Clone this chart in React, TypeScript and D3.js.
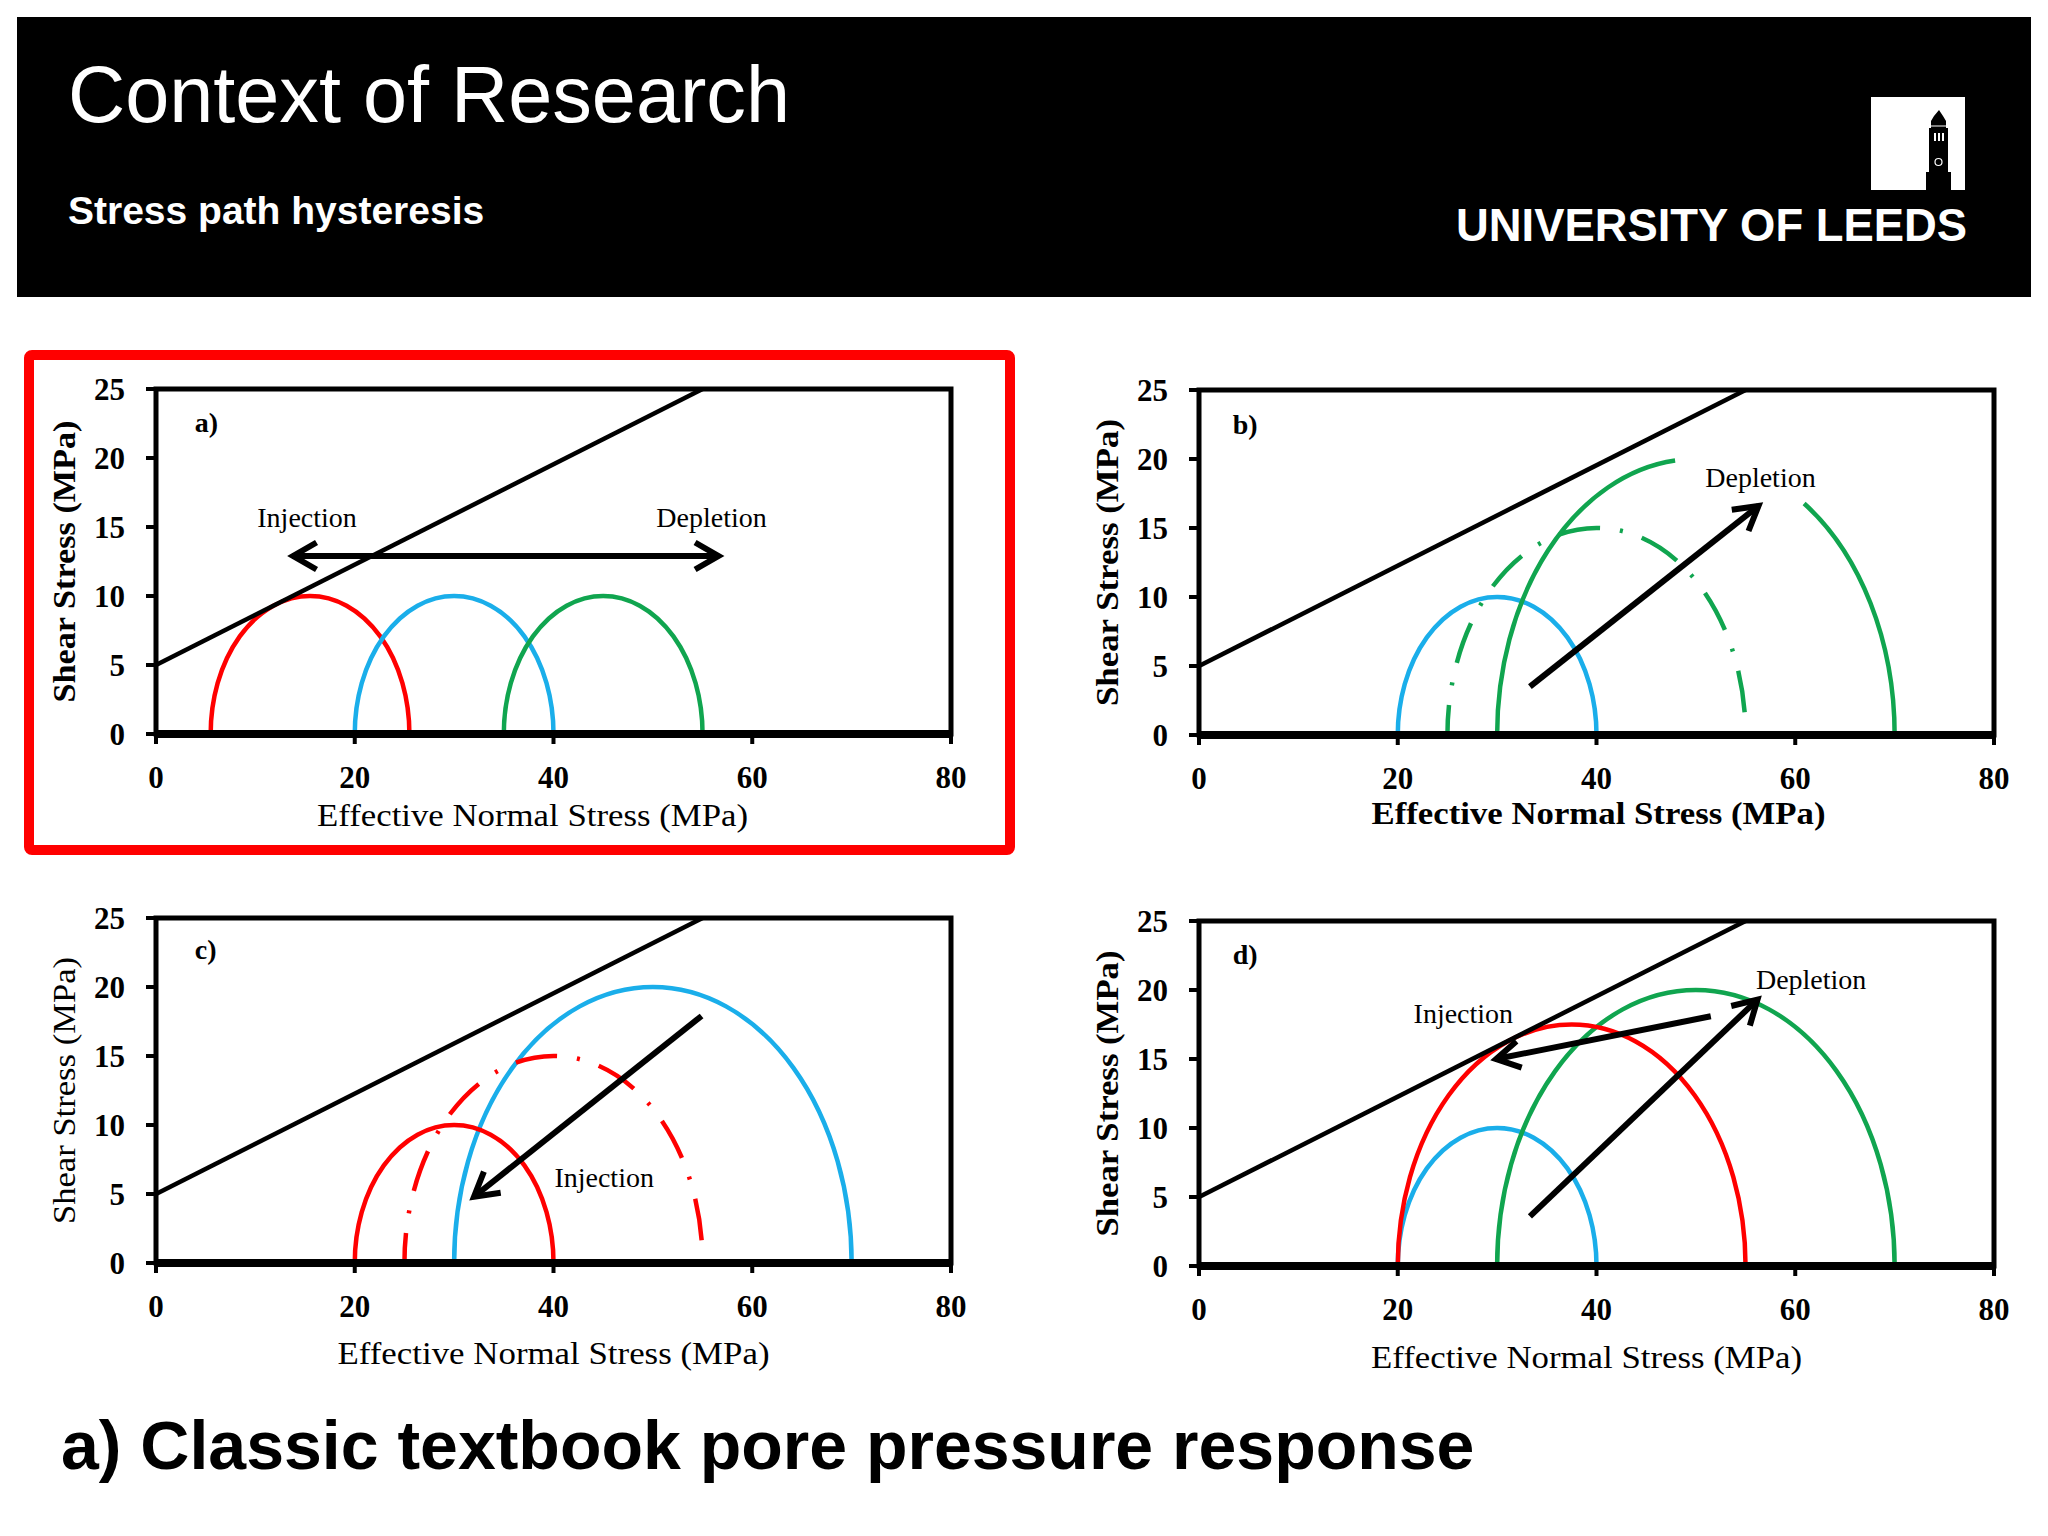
import * as d3 from "d3";

const W = 2048;
const H = 1536;

const xTicks = [0, 20, 40, 60, 80];
const yTicks = [0, 5, 10, 15, 20, 25];

// failure envelope (cohesion 5 MPa, ~20 deg friction), as end points
const envelope: [number, number][] = [
  [0, 5],
  [55, 25],
];

type Circle = { stage: string; centre: number; radius: number; arcs?: [number, number][] };
type Arrow = { from: [number, number]; to: [number, number]; both?: boolean };
type Note = { text: string; at: [number, number] };

const circlesA: Circle[] = [
  { stage: "injected", centre: 15.5, radius: 10 },
  { stage: "initial", centre: 30, radius: 10 },
  { stage: "depleted", centre: 45, radius: 10 },
];
const circlesB: Circle[] = [
  { stage: "initial", centre: 30, radius: 10 },
  { stage: "depletedMid", centre: 40, radius: 15 },
  { stage: "depleted", centre: 50, radius: 20, arcs: [[96, 180], [0, 57]] },
];
const circlesC: Circle[] = [
  { stage: "initial", centre: 50, radius: 20 },
  { stage: "injectedMid", centre: 40, radius: 15 },
  { stage: "injected", centre: 30, radius: 10 },
];
const circlesD: Circle[] = [
  { stage: "initial", centre: 30, radius: 10 },
  { stage: "depleted", centre: 50, radius: 20 },
  { stage: "injected", centre: 37.5, radius: 17.5 },
];

const arrowsA: Arrow[] = [{ from: [13.8, 12.9], to: [56.6, 12.9], both: true }];
const arrowsB: Arrow[] = [{ from: [33.3, 3.5], to: [56.3, 16.6] }];
const arrowsC: Arrow[] = [{ from: [54.9, 17.9], to: [32.0, 4.8] }];
const arrowsD: Arrow[] = [
  { from: [33.3, 3.6], to: [56.2, 19.3] },
  { from: [51.5, 18.1], to: [29.9, 15.0] },
];

const notesA: Note[] = [
  { text: "Injection", at: [15.2, 15] },
  { text: "Depletion", at: [55.9, 15] },
];
const notesB: Note[] = [{ text: "Depletion", at: [56.5, 18] }];
const notesC: Note[] = [{ text: "Injection", at: [45.1, 5.5] }];
const notesD: Note[] = [
  { text: "Injection", at: [26.6, 17.6] },
  { text: "Depletion", at: [61.6, 20.1] },
];

const letters = ["a)", "b)", "c)", "d)"];
const letterAt: [number, number][] = [
  [3.9, 21.9],
  [3.4, 21.8],
  [3.9, 22.0],
  [3.4, 21.9],
];

const xTitle = "Effective Normal Stress (MPa)";
const yTitle = "Shear Stress (MPa)";

const RED = "#ff0000";
const BLUE = "#1aaeea";
const GREEN = "#10a54f";

const stageStyle: Record<string, { color: string; dash?: string }> = {
  initial: { color: BLUE },
  injected: { color: RED },
  depleted: { color: GREEN },
  injectedMid: { color: RED, dash: "42 20 3 20" },
  depletedMid: { color: GREEN, dash: "42 20 3 20" },
};

const SERIF = "'Liberation Serif', 'Times New Roman', serif";
const SANS = "'Liberation Sans', Arial, sans-serif";

type PanelProps = {
  left: number;
  top: number;
  circles: Circle[];
  arrows: Arrow[];
  notes: Note[];
  letter: string;
  letterPos: [number, number];
  yBold: boolean;
  xBold: boolean;
  xTitleShift: number;
  xTitleGap: number;
  xTitleLen: number;
  yTitleLen: number;
};

const PW = 795;
const PH = 345;

function Panel(p: PanelProps) {
  const x = d3.scaleLinear().domain([0, 80]).range([0, PW]);
  const y = d3.scaleLinear().domain([0, 25]).range([PH, 0]);

  const arcPath = (c: Circle, a0: number, a1: number) => {
    const rx = x(c.radius) - x(0);
    const ry = y(0) - y(c.radius);
    const t0 = (a1 * Math.PI) / 180;
    const t1 = (a0 * Math.PI) / 180;
    const sx = x(c.centre + c.radius * Math.cos(t0));
    const sy = y(c.radius * Math.sin(t0));
    const ex = x(c.centre + c.radius * Math.cos(t1));
    const ey = y(c.radius * Math.sin(t1));
    return `M${sx},${sy} A${rx},${ry} 0 0 1 ${ex},${ey}`;
  };

  const head = (tx: number, ty: number, fx: number, fy: number) => {
    const len = Math.hypot(tx - fx, ty - fy);
    const ux = (tx - fx) / len;
    const uy = (ty - fy) / len;
    const L = 27;
    const th = (30 * Math.PI) / 180;
    const arm = (s: number) => {
      const c = Math.cos(s * th);
      const sn = Math.sin(s * th);
      const rx = ux * c - uy * sn;
      const ry = ux * sn + uy * c;
      return [tx - L * rx, ty - L * ry];
    };
    const a = arm(1);
    const b = arm(-1);
    return `M${a[0]},${a[1]} L${tx},${ty} L${b[0]},${b[1]}`;
  };

  const line = d3
    .line<[number, number]>()
    .x((d) => x(d[0]))
    .y((d) => y(d[1]));

  return (
    <g transform={`translate(${p.left},${p.top})`}>
      {/* circles */}
      {p.circles.map((c, i) => {
        const st = stageStyle[c.stage];
        const arcs = c.arcs ?? [[0, 180] as [number, number]];
        return arcs.map((a, j) => (
          <path
            key={`${i}-${j}`}
            d={arcPath(c, a[0], a[1])}
            fill="none"
            stroke={st.color}
            strokeWidth={4.5}
            strokeDasharray={st.dash}
            strokeDashoffset={st.dash ? 12 : undefined}
          />
        ));
      })}
      {/* envelope */}
      <path d={line(envelope) ?? ""} fill="none" stroke="#000" strokeWidth={4.5} />
      {/* arrows */}
      {p.arrows.map((a, i) => {
        const fx = x(a.from[0]);
        const fy = y(a.from[1]);
        const tx = x(a.to[0]);
        const ty = y(a.to[1]);
        return (
          <g key={i} fill="none" stroke="#000" strokeWidth={6} strokeLinejoin="miter">
            <line x1={fx} y1={fy} x2={tx} y2={ty} />
            <path d={head(tx, ty, fx, fy)} />
            {a.both && <path d={head(fx, fy, tx, ty)} />}
          </g>
        );
      })}
      {p.notes.map((n, i) => (
        <text key={i} x={x(n.at[0])} y={y(n.at[1])} textAnchor="middle" fontFamily={SERIF} fontSize={28} fill="#000">
          {n.text}
        </text>
      ))}
      <text x={x(p.letterPos[0])} y={y(p.letterPos[1])} fontFamily={SERIF} fontWeight="bold" fontSize={28} fill="#000">
        {p.letter}
      </text>
      {/* frame */}
      <rect x={0} y={0} width={PW} height={PH} fill="none" stroke="#000" strokeWidth={5} />
      <line x1={-2} x2={PW + 2} y1={PH} y2={PH} stroke="#000" strokeWidth={8} />
      {yTicks.map((t) => (
        <g key={`y${t}`}>
          <line x1={-10} x2={0} y1={y(t)} y2={y(t)} stroke="#000" strokeWidth={4} />
          <text
            x={-31}
            y={y(t)}
            dy="0.34em"
            textAnchor="end"
            fontFamily={SERIF}
            fontWeight="bold"
            fontSize={31}
            fill="#000"
          >
            {t}
          </text>
        </g>
      ))}
      {xTicks.map((t) => (
        <g key={`x${t}`}>
          <line x1={x(t)} x2={x(t)} y1={PH} y2={PH + 10} stroke="#000" strokeWidth={4} />
          <text x={x(t)} y={PH + 54} textAnchor="middle" fontFamily={SERIF} fontWeight="bold" fontSize={31} fill="#000">
            {t}
          </text>
        </g>
      ))}
      <text
        x={PW / 2 + p.xTitleShift}
        y={PH + p.xTitleGap}
        textAnchor="middle"
        fontFamily={SERIF}
        fontWeight={p.xBold ? "bold" : "normal"}
        fontSize={31}
        textLength={p.xTitleLen}
        lengthAdjust="spacingAndGlyphs"
        fill="#000"
      >
        {xTitle}
      </text>
      <text
        transform={`translate(-81,${PH / 2}) rotate(-90)`}
        textAnchor="middle"
        fontFamily={SERIF}
        fontWeight={p.yBold ? "bold" : "normal"}
        fontSize={31}
        textLength={p.yTitleLen}
        lengthAdjust="spacingAndGlyphs"
        fill="#000"
      >
        {yTitle}
      </text>
    </g>
  );
}

function LeedsLogo() {
  return (
    <g>
      <rect x={1871} y={97} width={94} height={93} fill="#fff" />
      <path
        d="M1939 110 L1943 116 L1946 121 L1946 128 L1948 128 L1948 172 L1951 172 L1951 190 L1926 190 L1926 172 L1929 172 L1929 128 L1931 128 L1931 121 L1934 116 Z"
        fill="#000"
      />
      <rect x={1934} y={133} width={2} height={8} fill="#fff" />
      <rect x={1938} y={133} width={2} height={8} fill="#fff" />
      <rect x={1942} y={133} width={2} height={8} fill="#fff" />
      <circle cx={1938.5} cy={162} r={3.5} fill="none" stroke="#fff" strokeWidth={1.2} />
      <line x1={1929} x2={1948} y1={126} y2={126} stroke="#fff" strokeWidth={1} />
    </g>
  );
}

export default function App() {
  return (
    <svg
      width={W}
      height={H}
      viewBox={`0 0 ${W} ${H}`}
      style={{ position: "absolute", left: 0, top: 0, background: "#fff" }}
    >
      <rect x={0} y={0} width={W} height={H} fill="#fff" />
      {/* header */}
      <rect x={17} y={17} width={2014} height={280} fill="#000" />
      <text x={68} y={122} fontFamily={SANS} fontSize={80} fill="#fff" textLength={722} lengthAdjust="spacingAndGlyphs">
        Context of Research
      </text>
      <text x={68} y={224} fontFamily={SANS} fontWeight="bold" fontSize={39} fill="#fff">
        Stress path hysteresis
      </text>
      <LeedsLogo />
      <text
        x={1456}
        y={241}
        fontFamily={SANS}
        fontWeight="bold"
        fontSize={46}
        fill="#fff"
        textLength={511}
        lengthAdjust="spacingAndGlyphs"
      >
        UNIVERSITY OF LEEDS
      </text>

      {/* highlight box round panel a */}
      <rect x={29} y={355} width={981} height={495} fill="none" stroke={RED} strokeWidth={10} rx={3} />

      <Panel
        left={156}
        top={389}
        circles={circlesA}
        arrows={arrowsA}
        notes={notesA}
        letter={letters[0]}
        letterPos={letterAt[0]}
        yBold
        xBold={false}
        xTitleShift={-21}
        xTitleGap={92}
        xTitleLen={431}
        yTitleLen={282}
      />
      <Panel
        left={1199}
        top={390}
        circles={circlesB}
        arrows={arrowsB}
        notes={notesB}
        letter={letters[1]}
        letterPos={letterAt[1]}
        yBold
        xBold
        xTitleShift={2}
        xTitleGap={89}
        xTitleLen={454}
        yTitleLen={287}
      />
      <Panel
        left={156}
        top={918}
        circles={circlesC}
        arrows={arrowsC}
        notes={notesC}
        letter={letters[2]}
        letterPos={letterAt[2]}
        yBold={false}
        xBold={false}
        xTitleShift={0}
        xTitleGap={101}
        xTitleLen={432}
        yTitleLen={267}
      />
      <Panel
        left={1199}
        top={921}
        circles={circlesD}
        arrows={arrowsD}
        notes={notesD}
        letter={letters[3]}
        letterPos={letterAt[3]}
        yBold
        xBold={false}
        xTitleShift={-10}
        xTitleGap={102}
        xTitleLen={431}
        yTitleLen={286}
      />

      <text x={61} y={1469} fontFamily={SANS} fontWeight="bold" fontSize={68} fill="#000">
        a) Classic textbook pore pressure response
      </text>
    </svg>
  );
}
